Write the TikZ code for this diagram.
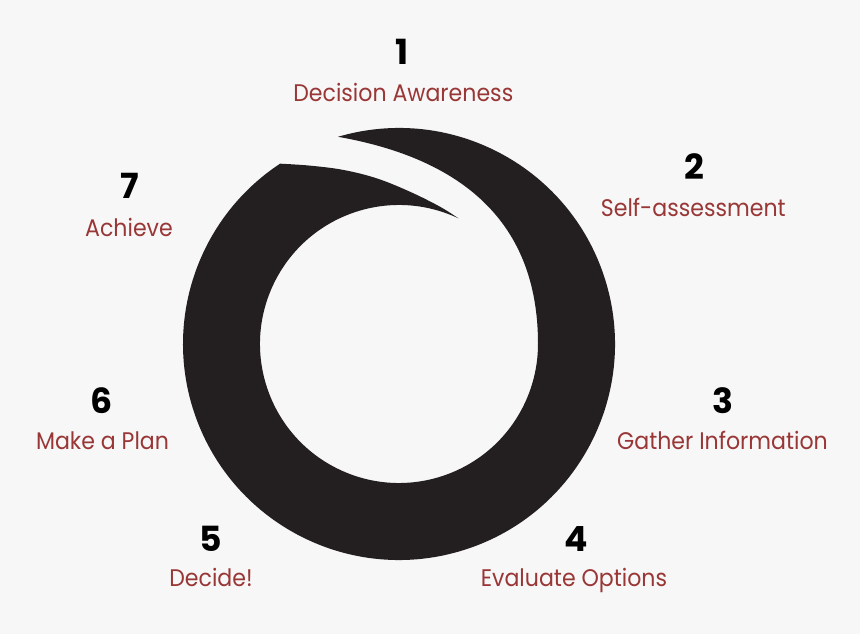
\documentclass[tikz,border=0pt]{standalone}
\usepackage{fontspec}
\setmainfont{Poppins}
\newfontfamily\steplabelfont{Poppins}[FakeStretch=0.92]
\usepackage{tikz}

\definecolor{ringcol}{HTML}{231F20}
\definecolor{labelcol}{HTML}{993636}
\definecolor{bgcol}{HTML}{F7F7F7}

\tikzset{
  stepnum/.style={anchor=base, inner sep=0pt, font=\fontsize{26}{26}\selectfont\bfseries, text=black},
  steptext/.style={anchor=base, inner sep=0pt, font=\fontsize{18}{18}\steplabelfont, text=labelcol},
}

\begin{document}
\begin{tikzpicture}[x=0.75pt, y=0.75pt]
		% Draw the background
		\fill[bgcol] (-399,-290) rectangle (461,344);

		% Draw the spiral ring
		\fill[ringcol] (106.4:216) arc[start angle=106.4, end angle=-236.6, radius=216]
			-- plot[smooth, tension=0.6] coordinates {(123.4:216) (116.5:199.3) (107.7:182.7) (97.7:167.2) (85.9:152.7) (73.4:143.3) (64.7:139)}
			arc[start angle=64.7, end angle=360, radius=139]
			.. controls (139,86) and (101.8,178.5) .. (106.4:216)
			-- cycle;

		% Step numbers
		\node[stepnum] (n1) at (2.7,279) {1};
		\node[stepnum] (n2) at (295,164) {2};
		\node[stepnum] (n3) at (323.5,-69.3) {3};
		\node[stepnum] (n4) at (177.7,-207.7) {4};
		\node[stepnum] (n5) at (-188.3,-207.7) {5};
		\node[stepnum] (n6) at (-297.3,-69.3) {6};
		\node[stepnum] (n7) at (-269,145.7) {7};

		% Step labels
		\node[steptext] (t1) at (4.3,242.3) {Decision Awareness};
		\node[steptext] (t2) at (294.3,127.3) {Self-assessment};
		\node[steptext] (t3) at (323.5,-106) {Gather Information};
		\node[steptext] (t4) at (175,-242.7) {Evaluate Options};
		\node[steptext] (t5) at (-188,-242.7) {Decide!};
		\node[steptext] (t6) at (-296.5,-106) {Make a Plan};
		\node[steptext] (t7) at (-270,107.3) {Achieve};

	\end{tikzpicture}
\end{document}
